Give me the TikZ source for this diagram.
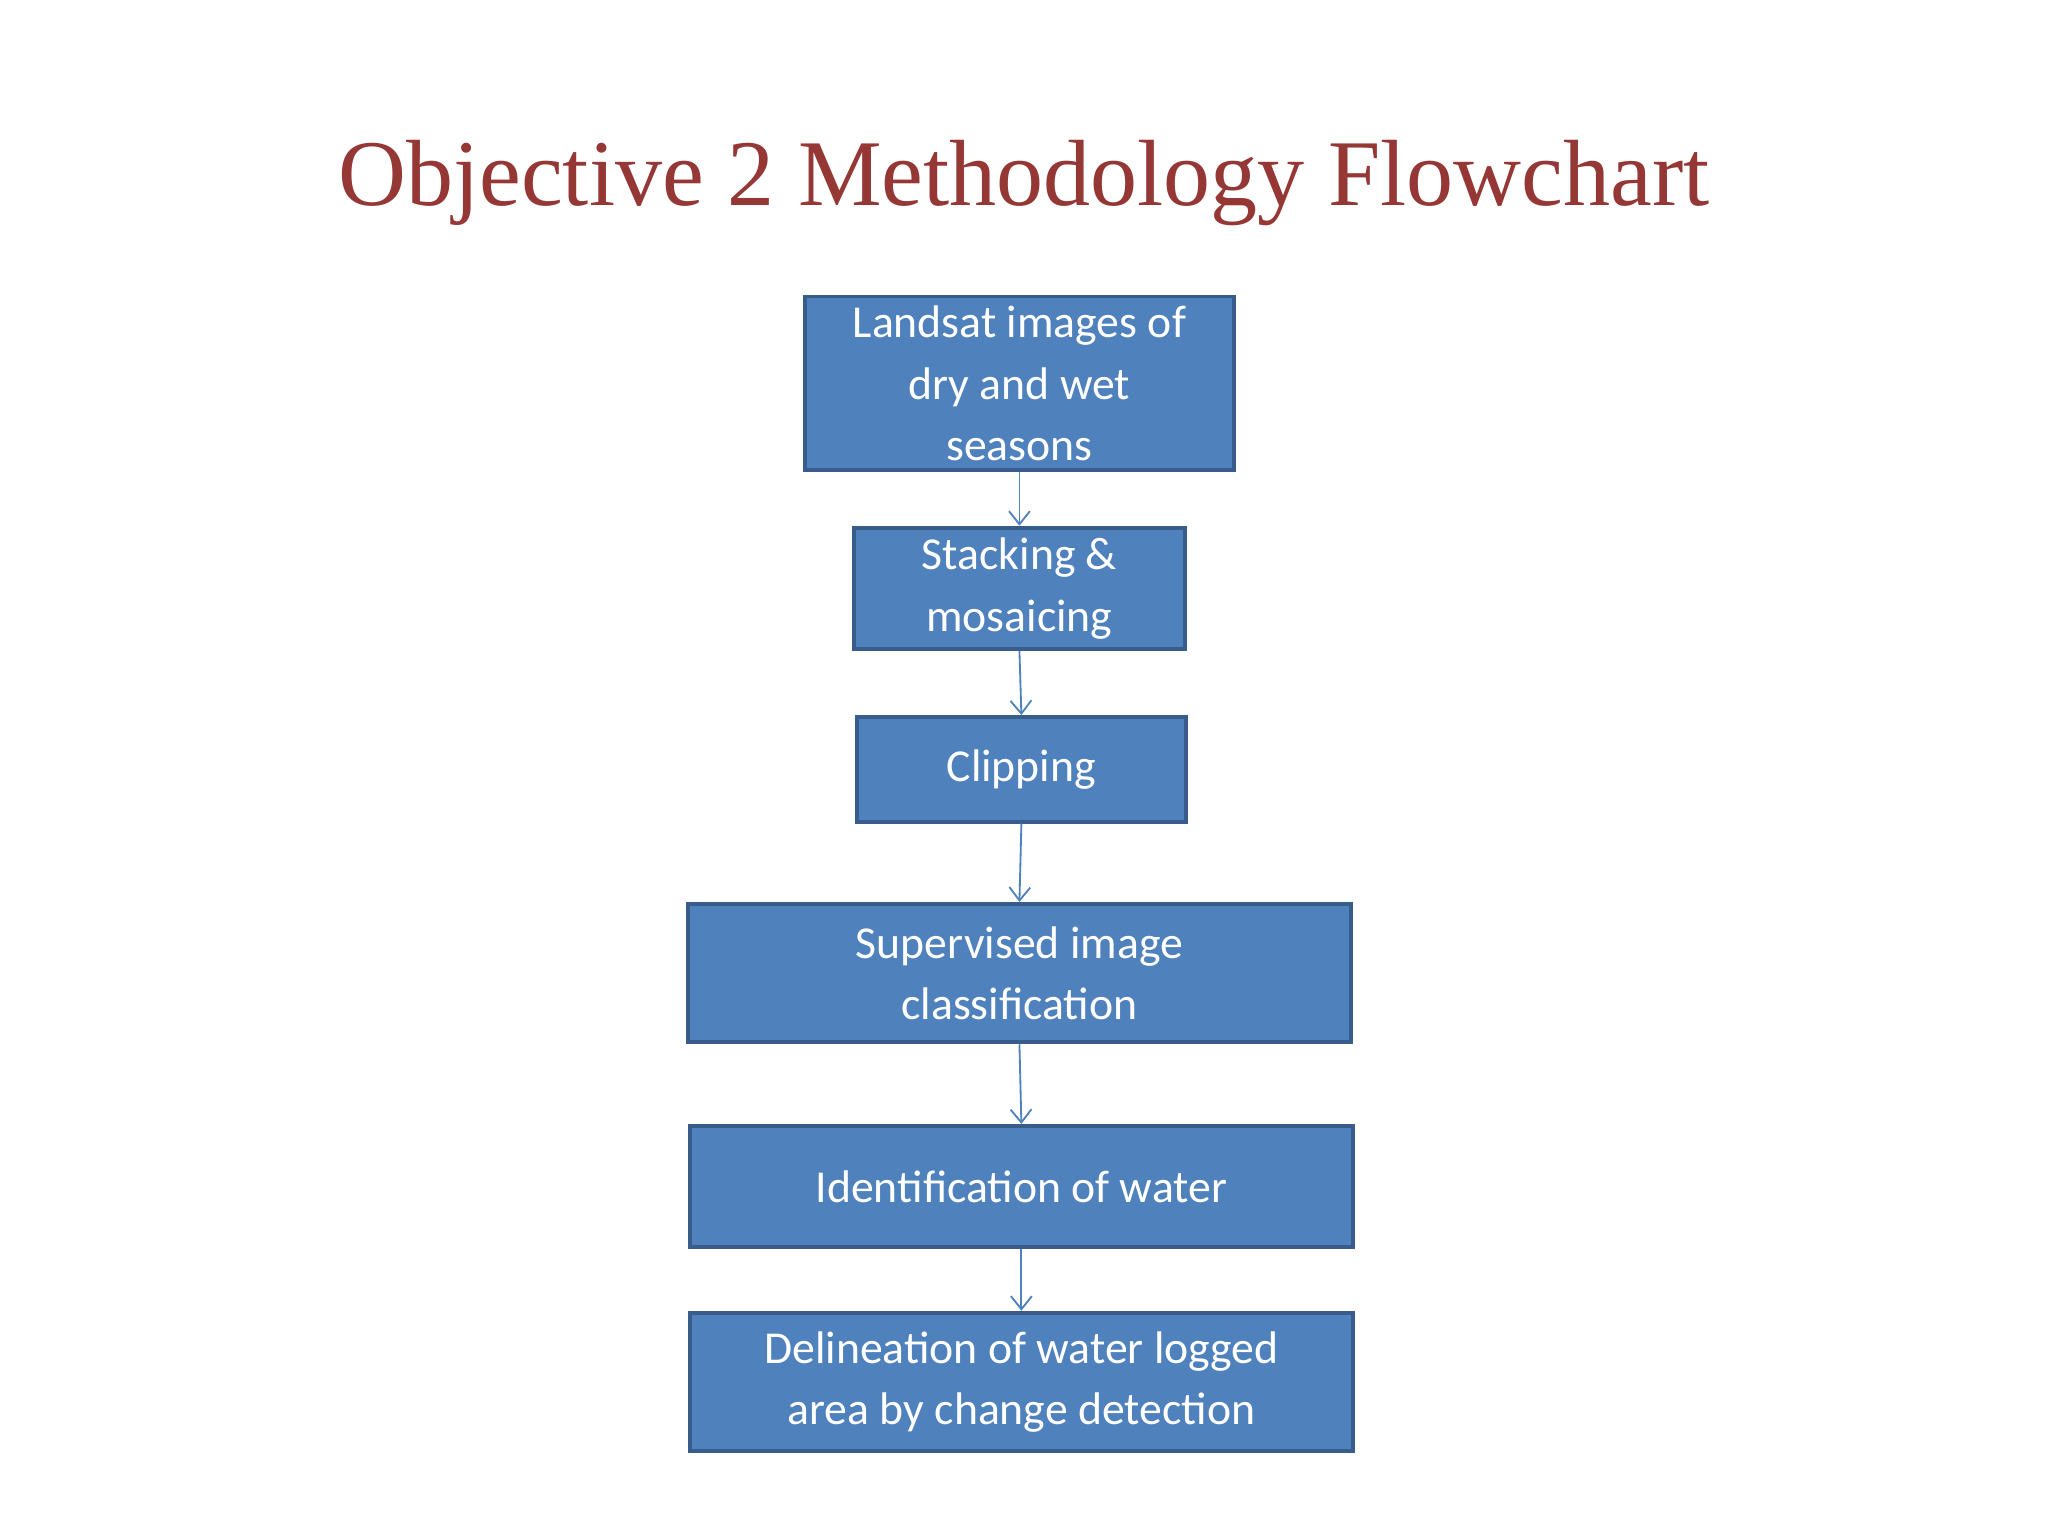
\documentclass[tikz,border=0pt]{standalone}
\usepackage{fontspec}
\setmainfont{Carlito}
\newfontfamily\titlefont{Liberation Serif}
\usetikzlibrary{arrows.meta}
\definecolor{boxfill}{HTML}{4F81BD}
\definecolor{boxline}{HTML}{385D8A}
\definecolor{titlered}{HTML}{953735}
\tikzset{
 stepbox/.style={draw=boxline,fill=boxfill,line width=1.5pt,text=white,align=center,inner sep=0pt,font=\fontsize{17.5}{23.5}\selectfont},
 conn/.style={draw=boxfill,line width=0.7pt,-{Straight Barb[length=5pt,width=8pt]}}
}
\begin{document}
\begin{tikzpicture}[x=0.5pt,y=-0.5pt]
\fill[white] (0,0) rectangle (1568,1176);
\useasboundingbox (0,0) rectangle (1568,1176);
\node[text=titlered,font=\titlefont\fontsize{36}{40}\selectfont] (title) at (784,140) {Objective 2 Methodology Flowchart};
\node[stepbox,minimum width=164.5pt,minimum height=66.5pt] (b1) at (780.5,293.5) {Landsat images of\\dry and wet\\seasons};
\node[stepbox,minimum width=126.5pt,minimum height=46.5pt] (b2) at (780.5,450.5) {Stacking \&\\mosaicing};
\node[stepbox,minimum width=126pt,minimum height=40pt] (b3) at (782,589) {Clipping};
\node[stepbox,minimum width=253.5pt,minimum height=53pt] (b4) at (780.5,745) {Supervised image\\classification};
\node[stepbox,minimum width=254pt,minimum height=46.5pt] (b5) at (782,908.5) {Identification of water};
\node[stepbox,minimum width=254pt,minimum height=53pt] (b6) at (782,1058) {Delineation of water logged\\area by change detection};
\draw[conn] (b1.south) -- (b2.north);
\draw[conn] (b2.south) -- (b3.north);
\draw[conn] (b3.south) -- (b4.north);
\draw[conn] (b4.south) -- (b5.north);
\draw[conn] (b5.south) -- (b6.north);
\end{tikzpicture}
\end{document}
